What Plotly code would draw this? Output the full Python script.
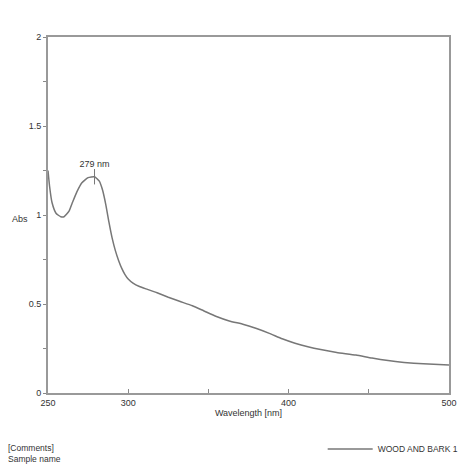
import plotly.graph_objects as go

# spectrum
wavelength = [250, 251, 252.5, 255, 258, 260, 263, 265, 268, 271, 275, 279, 282, 284, 286,
              288, 290, 292, 294, 296, 298, 300, 303, 307, 312, 318, 325, 332, 340, 347,
              355, 363, 372, 380, 388, 396, 404, 412, 420, 430, 442, 452, 462, 472, 484,
              500]
absorbance = [1.25, 1.16, 1.07, 1.01, 0.99, 0.99, 1.02, 1.065, 1.13, 1.18, 1.21, 1.215, 1.19,
              1.14, 1.06, 0.96, 0.87, 0.80, 0.745, 0.70, 0.665, 0.64, 0.617, 0.598, 0.582,
              0.563, 0.538, 0.515, 0.49, 0.462, 0.43, 0.405, 0.385, 0.362, 0.335, 0.305,
              0.28, 0.26, 0.244, 0.228, 0.213, 0.196, 0.182, 0.172, 0.164, 0.157]

peak_nm = 279
peak_abs = absorbance[wavelength.index(peak_nm)]

x_ticks = [250, 300, 350, 400, 450, 500]
x_labels = ['250', '300', '', '400', '', '500']
y_ticks = [0, 0.25, 0.5, 0.75, 1, 1.25, 1.5, 1.75, 2]
y_labels = ['0', '', '0.5', '', '1', '', '1.5', '', '2']

font = dict(family='Liberation Sans, Arial', size=9, color='#333333')
small = dict(family='Liberation Sans, Arial', size=8.5, color='#333333')

fig = go.Figure()
fig.add_trace(go.Scatter(x=wavelength, y=absorbance, mode='lines', name='WOOD AND BARK 1',
                         line=dict(color='#777777', width=1.5, shape='spline', smoothing=0.5)))
# peak marker
fig.add_trace(go.Scatter(x=[peak_nm], y=[peak_abs], mode='markers+text', showlegend=False,
                         text=[f'{peak_nm} nm'], textposition='top center',
                         textfont=font,
                         marker=dict(symbol='line-ns', size=11, line=dict(color='#777777', width=1))))

fig.update_layout(
    width=474, height=474,
    margin=dict(l=40, r=33, t=29, b=89),
    plot_bgcolor='white', paper_bgcolor='white',
    font=font,
    showlegend=True,
    legend=dict(x=0.685, y=-0.157, xanchor='left', yanchor='middle', font=small,
                bgcolor='rgba(0,0,0,0)', itemwidth=45),
    annotations=[
        dict(text='[Comments]<br>Sample name', xref='paper', yref='paper', x=-0.105, y=-0.17,
             xanchor='left', yanchor='middle', align='left', showarrow=False, font=small),
        dict(text='Abs', xref='paper', yref='paper', x=-0.046, y=0.49,
             xanchor='right', yanchor='middle', showarrow=False, font=font),
    ],
)
fig.update_xaxes(range=[250, 500], tickvals=x_ticks, ticktext=x_labels, ticks='inside',
                 ticklen=4, tickcolor='#888888', showline=True, linecolor='#999999',
                 linewidth=2, mirror=True, showgrid=False, zeroline=False, automargin=False,
                 title=dict(text='Wavelength [nm]', standoff=2, font=font), tickfont=font)
fig.update_yaxes(range=[0, 2], tickvals=y_ticks, ticktext=y_labels, ticks='outside',
                 ticklen=3, tickcolor='#888888', showline=True, linecolor='#999999',
                 linewidth=2, mirror=True, showgrid=False, zeroline=False, automargin=False,
                 tickfont=font)

fig.write_html('out.html')
